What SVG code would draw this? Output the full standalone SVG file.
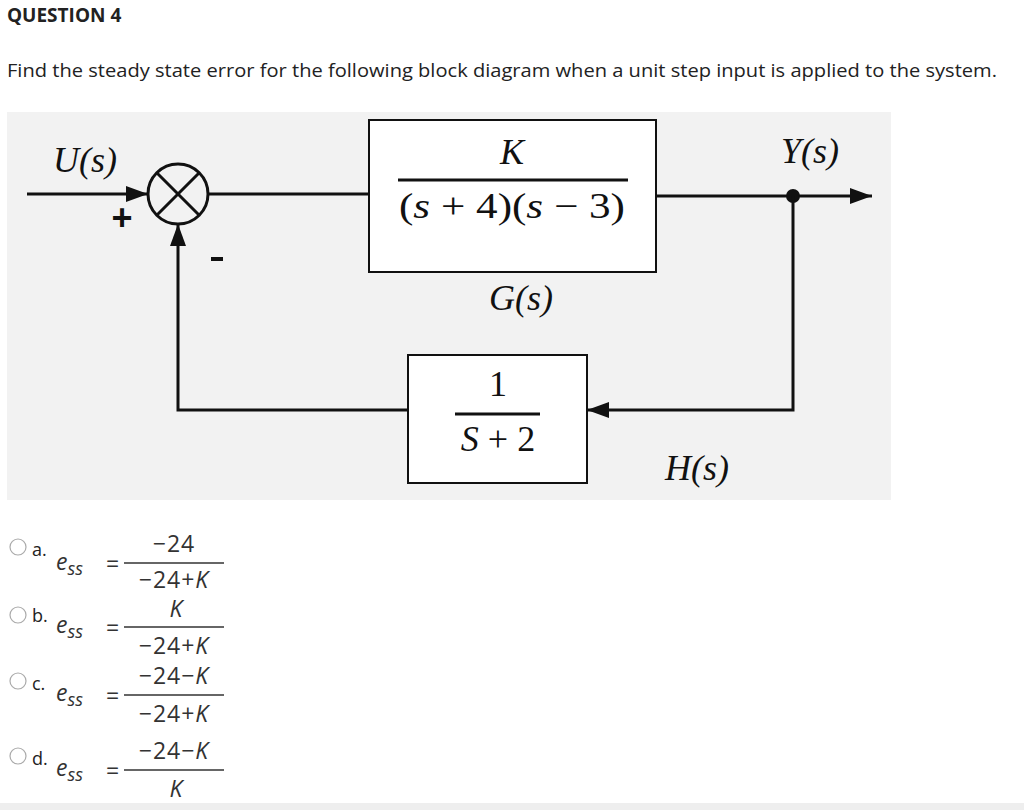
<svg xmlns="http://www.w3.org/2000/svg" width="1024" height="810" viewBox="0 0 1024 810">
<style>
.ui{font-family:"Open Sans","Noto Sans",sans-serif;fill:#222}
.m{font-family:"Liberation Serif",serif;font-style:italic;fill:#111;font-size:36px}
.mr{font-family:"Liberation Serif",serif;fill:#111;font-size:36px}
.ln{stroke:#111;stroke-width:3;fill:none}
.eq{font-family:"Open Sans","DejaVu Sans",sans-serif;fill:#333;font-size:23px;letter-spacing:1px}
.eqi{font-family:"Open Sans","DejaVu Sans",sans-serif;font-style:italic;fill:#333;font-size:23px}
.fl{stroke:#333;stroke-width:1.5}
.rb{fill:#fff;stroke:#aaa;stroke-width:1.2}
</style>
<defs>
<marker id="arb" markerWidth="22" markerHeight="20" refX="22" refY="10" orient="auto" markerUnits="userSpaceOnUse"><path d="M0,2L22,10L0,18z" fill="#111"/></marker></defs>
<rect width="1024" height="810" fill="#fff"/>
<text class="ui" x="7" y="22" font-size="19" font-weight="bold">QUESTION 4</text>
<text class="ui" x="7" y="77" font-size="19" textLength="990" lengthAdjust="spacingAndGlyphs">Find the steady state error for the following block diagram when a unit step input is applied to the system.</text>
<rect x="7" y="112" width="884" height="388" fill="#f2f2f2"/>
<g id="sum"><circle cx="178" cy="194" r="30" class="ln"/><line x1="157" y1="173" x2="199" y2="215" class="ln"/><line x1="199" y1="173" x2="157" y2="215" class="ln"/>
<text x="122" y="230" font-family="Liberation Sans,sans-serif" font-weight="bold" font-size="36" text-anchor="middle" fill="#111">+</text>
<rect x="211" y="257" width="12" height="4" fill="#111"/></g>
<g id="G"><rect x="369" y="120" width="287" height="152" fill="#fff" stroke="#111" stroke-width="2"/>
<text class="m" x="512" y="164" text-anchor="middle">K</text><line x1="398" y1="180" x2="628" y2="180" class="ln"/>
<text class="mr" x="512" y="218" text-anchor="middle" textLength="226" lengthAdjust="spacingAndGlyphs">(<tspan font-style="italic">s</tspan> + 4)(<tspan font-style="italic">s</tspan> − 3)</text>
<text class="m" x="521" y="310" text-anchor="middle">G(s)</text></g>
<g id="H"><rect x="408" y="355" width="179" height="128" fill="#fff" stroke="#111" stroke-width="2"/>
<text class="mr" x="498" y="396" text-anchor="middle">1</text><line x1="455" y1="414" x2="540" y2="414" class="ln"/>
<text class="mr" x="498" y="451" text-anchor="middle"><tspan font-style="italic">S</tspan> + 2</text>
<text class="m" x="697" y="480" text-anchor="middle">H(s)</text></g>
<g id="labels"><text class="m" x="85" y="172" text-anchor="middle">U(s)</text><text class="m" x="810" y="163" text-anchor="middle">Y(s)</text></g>
<g id="connectors">
<line x1="27" y1="194" x2="148" y2="194" class="ln" marker-end="url(#arb)"/>
<line x1="208" y1="194" x2="369" y2="194" class="ln"/>
<line x1="656" y1="196" x2="872" y2="196" class="ln" marker-end="url(#arb)"/>
<circle cx="793" cy="196" r="7" fill="#111"/>
<polyline points="793,196 793,410 587,410" class="ln" marker-end="url(#arb)"/>
<polyline points="408,410 178,410 178,224" class="ln" marker-end="url(#arb)"/>
</g>
<g id="options">
<circle cx="18" cy="547" r="8" class="rb"/><text class="ui" x="32" y="556" font-size="18">a.</text>
<text class="eqi" x="56" y="570">e<tspan font-size="18" dy="5">ss</tspan></text><text class="eq" x="106" y="572">=</text>
<line x1="124" y1="563" x2="224" y2="563" class="fl"/><text class="eq" x="174" y="552" text-anchor="middle">−24</text><text class="eq" x="174" y="588" text-anchor="middle">−24+<tspan font-style="italic">K</tspan></text>
<circle cx="18" cy="615" r="8" class="rb"/><text class="ui" x="32" y="622" font-size="18">b.</text>
<text class="eqi" x="56" y="633">e<tspan font-size="18" dy="5">ss</tspan></text><text class="eq" x="106" y="636">=</text>
<line x1="124" y1="627" x2="224" y2="627" class="fl"/><text class="eqi" x="176" y="617" text-anchor="middle">K</text><text class="eq" x="174" y="654" text-anchor="middle">−24+<tspan font-style="italic">K</tspan></text>
<circle cx="18" cy="681" r="8" class="rb"/><text class="ui" x="32" y="690" font-size="18">c.</text>
<text class="eqi" x="56" y="701">e<tspan font-size="18" dy="5">ss</tspan></text><text class="eq" x="106" y="704">=</text>
<line x1="124" y1="695" x2="224" y2="695" class="fl"/><text class="eq" x="174" y="684" text-anchor="middle">−24−<tspan font-style="italic">K</tspan></text><text class="eq" x="174" y="722" text-anchor="middle">−24+<tspan font-style="italic">K</tspan></text>
<circle cx="18" cy="756" r="8" class="rb"/><text class="ui" x="32" y="765" font-size="18">d.</text>
<text class="eqi" x="56" y="776">e<tspan font-size="18" dy="5">ss</tspan></text><text class="eq" x="106" y="779">=</text>
<line x1="124" y1="770" x2="224" y2="770" class="fl"/><text class="eq" x="174" y="759" text-anchor="middle">−24−<tspan font-style="italic">K</tspan></text><text class="eqi" x="176" y="797" text-anchor="middle">K</text>
</g>
<rect x="0" y="803" width="1024" height="7" fill="#eee"/>
</svg>
